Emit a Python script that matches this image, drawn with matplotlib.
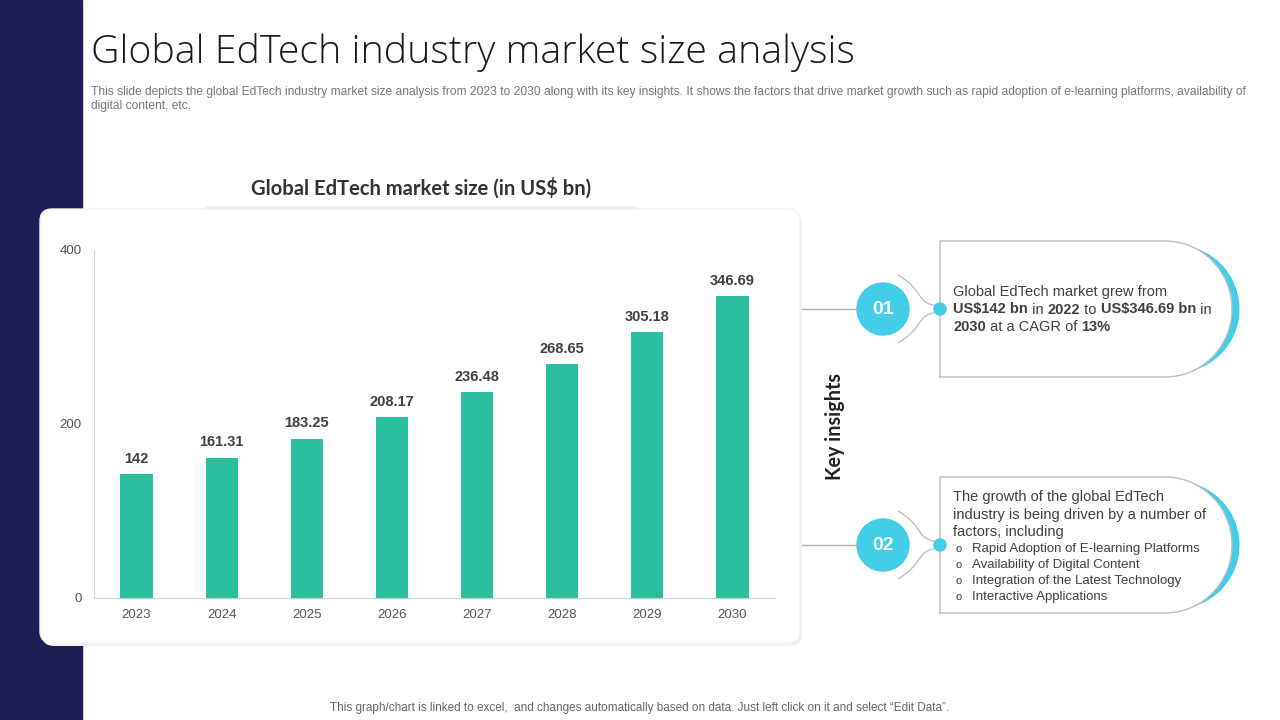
import matplotlib.pyplot as plt
from matplotlib.patches import FancyBboxPatch, Rectangle, Circle, PathPatch, Polygon
from matplotlib.path import Path
import numpy as np

# ------------------------------------------------------------
# Data
# ------------------------------------------------------------
years = ["2023", "2024", "2025", "2026", "2027", "2028", "2029", "2030"]
market_size = [142, 161.31, 183.25, 208.17, 236.48, 268.65, 305.18, 346.69]
value_labels = ["142", "161.31", "183.25", "208.17", "236.48", "268.65", "305.18", "346.69"]
y_ticks = [0, 200, 400]

title = "Global EdTech industry market size analysis"
subtitle = ["This slide depicts the global EdTech industry market size analysis from 2023 to 2030 along with its key insights. It shows the factors that drive market growth such as rapid adoption of e-learning platforms, availability of",
            "digital content, etc."]
chart_title = "Global EdTech market size (in US$ bn)"
footer = "This graph/chart is linked to excel,  and changes automatically based on data. Just left click on it and select \u201cEdit Data\u201d."

insight1 = [
    [("Global EdTech market grew from", False)],
    [("US$142 bn", True), (" in ", False), ("2022", True), (" to ", False), ("US$346.69 bn", True), (" in", False)],
    [("2030", True), (" at a CAGR of ", False), ("13%", True)],
]
insight2_intro = ["The growth of the global EdTech", "industry is being driven by a number of", "factors, including"]
insight2_bullets = ["Rapid Adoption of E-learning Platforms", "Availability of Digital Content",
                    "Integration of the Latest Technology", "Interactive Applications"]

BAR = "#2BBFA0"
CYAN = "#42CDE8"
NAVY = "#1E1C54"
BODY = "Liberation Sans"

# ------------------------------------------------------------
# Figure + pixel-coordinate overlay
# ------------------------------------------------------------
fig = plt.figure(figsize=(12.8, 7.2), dpi=100)
bg = fig.add_axes([0, 0, 1, 1], zorder=0)
bg.set_xlim(0, 1280)
bg.set_ylim(720, 0)
bg.axis("off")

bg.add_patch(Rectangle((0, 0), 82, 720, color=NAVY))

bg.text(91, 53, title, fontsize=28.4, family="Open Sans", weight="light", color="#1A1A1A",
        va="center")
for i, line in enumerate(subtitle):
    bg.text(91, 92 + i * 14, line, fontsize=8.65, family=BODY, color="#777777", va="center")
bg.text(640, 708, footer, fontsize=8.5, family=BODY, color="#666666", ha="center", va="center")

# chart header + card
bg.text(421, 188, chart_title, fontsize=14.5, family="Lato", weight="bold", color="#333333",
        ha="center", va="center")
bg.add_patch(Rectangle((205, 206), 432, 5, color="#EEEEEE", lw=0))
bg.add_patch(FancyBboxPatch((42, 212), 760, 434, boxstyle="round,pad=0,rounding_size=12",
                            fc="#F0F0F0", ec="none"))
bg.add_patch(FancyBboxPatch((40, 209), 760, 434, boxstyle="round,pad=0,rounding_size=12",
                            fc="white", ec="#F2F2F2", lw=1))

# key insights
bg.text(835, 427, "Key insights", fontsize=14.2, weight="bold", family="Lato", color="#222222",
        rotation=90, ha="center", va="center")


def rich_line(x, y, parts, size=10.5):
    prev = None
    for txt, bold in parts:
        kw = dict(fontsize=size, family=BODY, color="#404040",
                  weight="bold" if bold else "normal")
        if prev is None:
            prev = bg.text(x, y, txt, va="baseline", **kw)
        else:
            prev = bg.annotate(txt, xy=(1, 0), xycoords=prev, va="bottom", **kw)


def insight_box(cy, number):
    top, bot = cy - 68, cy + 68
    # connector line and circle
    bg.plot([802, 858], [cy, cy], color="#B0B0B0", lw=1)
    bg.add_patch(Circle((883, cy), 26, color=CYAN))
    bg.text(883, cy + 1, number, color="white", fontsize=14, weight="bold", family=BODY,
            ha="center", va="center")
    # curly connectors
    for s in (-1, 1):
        verts = [(898, cy + s * 34), (925, cy + s * 18), (915, cy + s * 6), (938, cy + s * 3)]
        bg.add_patch(PathPatch(Path(verts, [Path.MOVETO, Path.CURVE4, Path.CURVE4, Path.CURVE4]),
                               fc="none", ec="#BBBBBB", lw=0.9))
    bg.add_patch(Circle((940, cy), 6, color=CYAN, zorder=4))
    # outline: rectangle with rounded right side
    cx = 1165
    t = np.linspace(-np.pi / 2, np.pi / 2, 90)
    ox = np.concatenate([[940, 940], cx + 67 * np.cos(t), [940]])
    oy = np.concatenate([[bot, top], cy + 68 * np.sin(t), [bot]])
    bg.plot(ox, oy, color="#BDBDBD", lw=1)
    # cyan crescent, thickest on the right, tapering to the ends
    t2 = np.linspace(-1.12, 1.12, 80)
    w = 7.5 * np.cos(t2 / 1.12 * np.pi / 2)
    outer = np.column_stack([cx + (67 + w) * np.cos(t2), cy + (68 + w) * np.sin(t2)])
    inner = np.column_stack([cx + 67 * np.cos(t2), cy + 68 * np.sin(t2)])[::-1]
    bg.add_patch(Polygon(np.vstack([outer, inner]), closed=True, color=CYAN, lw=0))


insight_box(309, "01")
insight_box(545, "02")

for i, parts in enumerate(insight1):
    rich_line(953, 296 + i * 17.5, parts)

for i, line in enumerate(insight2_intro):
    bg.text(953, 501 + i * 17.5, line, fontsize=10.5, family=BODY, color="#404040", va="baseline")
for i, line in enumerate(insight2_bullets):
    bg.text(955, 552 + i * 16, "o", fontsize=8, family=BODY, color="#404040", va="baseline")
    bg.text(972, 552 + i * 16, line, fontsize=9.5, family=BODY, color="#404040", va="baseline")

# ------------------------------------------------------------
# Bar chart
# ------------------------------------------------------------
ax = fig.add_axes([94 / 1280, (720 - 598) / 720, 681 / 1280, 348 / 720], zorder=2)
ax.patch.set_alpha(0)
x = np.arange(len(years))
bars = ax.bar(x, market_size, width=0.38, color=BAR)
for xi, v, lab in zip(x, market_size, value_labels):
    ax.annotate(lab, (xi, v), xytext=(0, 6), textcoords="offset points", ha="center", va="bottom",
                fontsize=10.5, weight="bold", family=BODY, color="#404040")
ax.set_xlim(-0.5, 7.5)
ax.set_ylim(0, 400)
ax.set_yticks(y_ticks)
ax.set_xticks(x)
ax.set_xticklabels(years)
ax.tick_params(length=0, labelsize=9.5, labelcolor="#555555")
ax.tick_params(axis="y", pad=9)
ax.tick_params(axis="x", pad=8)
for lab in ax.get_xticklabels() + ax.get_yticklabels():
    lab.set_family(BODY)
for s in ["top", "right"]:
    ax.spines[s].set_visible(False)
for s in ["left", "bottom"]:
    ax.spines[s].set_color("#D0D0D0")
    ax.spines[s].set_linewidth(0.8)

plt.savefig("out.png", dpi=100)
